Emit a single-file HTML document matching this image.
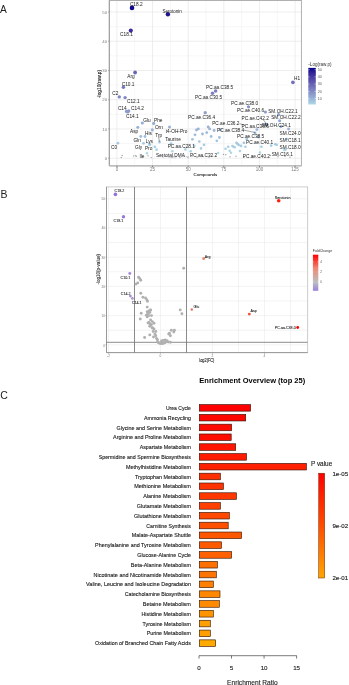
<!DOCTYPE html>
<html><head><meta charset="utf-8"><title>Figure</title>
<style>html,body{margin:0;padding:0;background:#fff;width:349px;height:685px;overflow:hidden}</style>
</head><body>
<svg width="349" height="685" viewBox="0 0 349 685" style="display:block;font-family:'Liberation Sans', Arial, sans-serif">
<rect width="349" height="685" fill="#fff"/>
<text transform="translate(0.00,12.70)" font-size="10.2" fill="#222">A</text>
<text transform="translate(0.60,197.70)" font-size="10.5" fill="#222">B</text>
<text transform="translate(0.30,398.60)" font-size="10.5" fill="#222">C</text>
<rect x="109.3" y="0.5" width="192.09999999999997" height="165.3" fill="#fff"/>
<line x1="134.72" y1="0.5" x2="134.72" y2="165.8" stroke="#f2f2f2" stroke-width="0.6"/><line x1="170.36" y1="0.5" x2="170.36" y2="165.8" stroke="#f2f2f2" stroke-width="0.6"/><line x1="206.00" y1="0.5" x2="206.00" y2="165.8" stroke="#f2f2f2" stroke-width="0.6"/><line x1="241.64" y1="0.5" x2="241.64" y2="165.8" stroke="#f2f2f2" stroke-width="0.6"/><line x1="277.28" y1="0.5" x2="277.28" y2="165.8" stroke="#f2f2f2" stroke-width="0.6"/><line x1="109.3" y1="143.58" x2="301.4" y2="143.58" stroke="#f2f2f2" stroke-width="0.6"/><line x1="109.3" y1="114.34" x2="301.4" y2="114.34" stroke="#f2f2f2" stroke-width="0.6"/><line x1="109.3" y1="85.10" x2="301.4" y2="85.10" stroke="#f2f2f2" stroke-width="0.6"/><line x1="109.3" y1="55.86" x2="301.4" y2="55.86" stroke="#f2f2f2" stroke-width="0.6"/><line x1="109.3" y1="26.62" x2="301.4" y2="26.62" stroke="#f2f2f2" stroke-width="0.6"/><line x1="116.90" y1="0.5" x2="116.90" y2="165.8" stroke="#e6e6e6" stroke-width="0.7"/><line x1="152.54" y1="0.5" x2="152.54" y2="165.8" stroke="#e6e6e6" stroke-width="0.7"/><line x1="188.18" y1="0.5" x2="188.18" y2="165.8" stroke="#e6e6e6" stroke-width="0.7"/><line x1="223.82" y1="0.5" x2="223.82" y2="165.8" stroke="#e6e6e6" stroke-width="0.7"/><line x1="259.46" y1="0.5" x2="259.46" y2="165.8" stroke="#e6e6e6" stroke-width="0.7"/><line x1="295.10" y1="0.5" x2="295.10" y2="165.8" stroke="#e6e6e6" stroke-width="0.7"/><line x1="109.3" y1="158.20" x2="301.4" y2="158.20" stroke="#e6e6e6" stroke-width="0.7"/><line x1="109.3" y1="128.96" x2="301.4" y2="128.96" stroke="#e6e6e6" stroke-width="0.7"/><line x1="109.3" y1="99.72" x2="301.4" y2="99.72" stroke="#e6e6e6" stroke-width="0.7"/><line x1="109.3" y1="70.48" x2="301.4" y2="70.48" stroke="#e6e6e6" stroke-width="0.7"/><line x1="109.3" y1="41.24" x2="301.4" y2="41.24" stroke="#e6e6e6" stroke-width="0.7"/><line x1="109.3" y1="12.00" x2="301.4" y2="12.00" stroke="#e6e6e6" stroke-width="0.7"/>
<rect x="109.3" y="0.5" width="192.09999999999997" height="165.3" fill="none" stroke="#a8a8a8" stroke-width="0.9"/>
<line x1="109.3" y1="0.5" x2="109.3" y2="165.8" stroke="#9a9a9a" stroke-width="0.9"/>
<line x1="109.3" y1="165.8" x2="301.4" y2="165.8" stroke="#bdbdbd" stroke-width="1.5"/>
<line x1="108.0" y1="158.20" x2="109.3" y2="158.20" stroke="#888" stroke-width="0.6"/>
<text transform="translate(107.10,159.75)" font-size="4.3" fill="#7c7c7c" text-anchor="end">0</text>
<line x1="108.0" y1="128.96" x2="109.3" y2="128.96" stroke="#888" stroke-width="0.6"/>
<text transform="translate(107.10,130.51)" font-size="4.3" fill="#7c7c7c" text-anchor="end">10</text>
<line x1="108.0" y1="99.72" x2="109.3" y2="99.72" stroke="#888" stroke-width="0.6"/>
<text transform="translate(107.10,101.27)" font-size="4.3" fill="#7c7c7c" text-anchor="end">20</text>
<line x1="108.0" y1="70.48" x2="109.3" y2="70.48" stroke="#888" stroke-width="0.6"/>
<text transform="translate(107.10,72.03)" font-size="4.3" fill="#7c7c7c" text-anchor="end">30</text>
<line x1="108.0" y1="41.24" x2="109.3" y2="41.24" stroke="#888" stroke-width="0.6"/>
<text transform="translate(107.10,42.79)" font-size="4.3" fill="#7c7c7c" text-anchor="end">40</text>
<line x1="108.0" y1="12.00" x2="109.3" y2="12.00" stroke="#888" stroke-width="0.6"/>
<text transform="translate(107.10,13.55)" font-size="4.3" fill="#7c7c7c" text-anchor="end">50</text>
<line x1="116.90" y1="165.8" x2="116.90" y2="167.10000000000002" stroke="#555" stroke-width="0.7"/>
<text transform="translate(116.90,171.10)" font-size="4.5" fill="#7c7c7c" text-anchor="middle">0</text>
<line x1="152.54" y1="165.8" x2="152.54" y2="167.10000000000002" stroke="#555" stroke-width="0.7"/>
<text transform="translate(152.54,171.10)" font-size="4.5" fill="#7c7c7c" text-anchor="middle">25</text>
<line x1="188.18" y1="165.8" x2="188.18" y2="167.10000000000002" stroke="#555" stroke-width="0.7"/>
<text transform="translate(188.18,171.10)" font-size="4.5" fill="#7c7c7c" text-anchor="middle">50</text>
<line x1="223.82" y1="165.8" x2="223.82" y2="167.10000000000002" stroke="#555" stroke-width="0.7"/>
<text transform="translate(223.82,171.10)" font-size="4.5" fill="#7c7c7c" text-anchor="middle">75</text>
<line x1="259.46" y1="165.8" x2="259.46" y2="167.10000000000002" stroke="#555" stroke-width="0.7"/>
<text transform="translate(259.46,171.10)" font-size="4.5" fill="#7c7c7c" text-anchor="middle">100</text>
<line x1="295.10" y1="165.8" x2="295.10" y2="167.10000000000002" stroke="#555" stroke-width="0.7"/>
<text transform="translate(295.10,171.10)" font-size="4.5" fill="#7c7c7c" text-anchor="middle">125</text>
<text transform="translate(205.40,176.00)" font-size="4.4" fill="#222" text-anchor="middle" stroke="#222" stroke-width="0.1">Compounds</text>
<text transform="translate(101.10,84.00) rotate(-90)" font-size="4.8" fill="#222" text-anchor="middle" stroke="#222" stroke-width="0.1">-log10(raw.p)</text>
<defs><linearGradient id="gA" x1="0" y1="1" x2="0" y2="0"><stop offset="0.0" stop-color="#add8e6"/><stop offset="0.1" stop-color="#a1c2dd"/><stop offset="0.2" stop-color="#95acd4"/><stop offset="0.3" stop-color="#8997cb"/><stop offset="0.4" stop-color="#7c82c2"/><stop offset="0.5" stop-color="#6f6db9"/><stop offset="0.6" stop-color="#6059b0"/><stop offset="0.7" stop-color="#5145a7"/><stop offset="0.8" stop-color="#3f309e"/><stop offset="0.9" stop-color="#2a1b94"/><stop offset="1.0" stop-color="#00008b"/></linearGradient>
<linearGradient id="gB" x1="0" y1="1" x2="0" y2="0"><stop offset="0" stop-color="#9b82dd"/><stop offset="0.24" stop-color="#bebebe"/><stop offset="0.62" stop-color="#ee8a76"/><stop offset="1" stop-color="#ff0000"/></linearGradient>
<linearGradient id="gC" x1="0" y1="0" x2="0" y2="1"><stop offset="0" stop-color="#ff0000"/><stop offset="0.5" stop-color="#ff4d00"/><stop offset="1" stop-color="#ffa500"/></linearGradient></defs>
<text transform="translate(308.30,66.00)" font-size="4.6" fill="#333">-Log(raw.p)</text>
<rect x="308.3" y="67.9" width="7.5" height="36.6" fill="url(#gA)"/>
<line x1="308.3" y1="69.7" x2="309.6" y2="69.7" stroke="#fff" stroke-width="0.5"/><line x1="314.5" y1="69.7" x2="315.8" y2="69.7" stroke="#fff" stroke-width="0.5"/>
<text transform="translate(317.80,71.00)" font-size="3.6" fill="#555">50</text>
<line x1="308.3" y1="76.9" x2="309.6" y2="76.9" stroke="#fff" stroke-width="0.5"/><line x1="314.5" y1="76.9" x2="315.8" y2="76.9" stroke="#fff" stroke-width="0.5"/>
<text transform="translate(317.80,78.20)" font-size="3.6" fill="#555">40</text>
<line x1="308.3" y1="84.1" x2="309.6" y2="84.1" stroke="#fff" stroke-width="0.5"/><line x1="314.5" y1="84.1" x2="315.8" y2="84.1" stroke="#fff" stroke-width="0.5"/>
<text transform="translate(317.80,85.40)" font-size="3.6" fill="#555">30</text>
<line x1="308.3" y1="91.4" x2="309.6" y2="91.4" stroke="#fff" stroke-width="0.5"/><line x1="314.5" y1="91.4" x2="315.8" y2="91.4" stroke="#fff" stroke-width="0.5"/>
<text transform="translate(317.80,92.70)" font-size="3.6" fill="#555">20</text>
<line x1="308.3" y1="98.5" x2="309.6" y2="98.5" stroke="#fff" stroke-width="0.5"/><line x1="314.5" y1="98.5" x2="315.8" y2="98.5" stroke="#fff" stroke-width="0.5"/>
<text transform="translate(317.80,99.80)" font-size="3.6" fill="#555">10</text>
<circle cx="132.0" cy="7.9" r="2.30" fill="#11088e"/>
<circle cx="167.9" cy="14.3" r="2.20" fill="#211492"/>
<circle cx="130.8" cy="30.6" r="2.10" fill="#3b2c9c"/>
<circle cx="135.1" cy="72.5" r="1.90" fill="#6965b6"/>
<circle cx="123.4" cy="87.3" r="1.75" fill="#7679bf"/>
<circle cx="119.3" cy="96.9" r="1.70" fill="#7f86c4"/>
<circle cx="125.1" cy="97.6" r="1.70" fill="#8087c5"/>
<circle cx="126.5" cy="111.4" r="1.65" fill="#8b9bcd"/>
<circle cx="128.7" cy="111.0" r="1.65" fill="#8b9acd"/>
<circle cx="127.7" cy="111.9" r="1.65" fill="#8c9bcd"/>
<circle cx="142.3" cy="123.0" r="1.55" fill="#95abd4"/>
<circle cx="153.7" cy="123.4" r="1.55" fill="#95acd4"/>
<circle cx="152.3" cy="129.9" r="1.55" fill="#9ab5d8"/>
<circle cx="137.8" cy="127.3" r="1.55" fill="#98b2d7"/>
<circle cx="145.0" cy="136.5" r="1.45" fill="#a0bfdc"/>
<circle cx="159.5" cy="142.0" r="1.40" fill="#a4c7df"/>
<circle cx="140.8" cy="136.5" r="1.45" fill="#a0bfdc"/>
<circle cx="143.5" cy="143.3" r="1.40" fill="#a5c9e0"/>
<circle cx="117.9" cy="143.2" r="1.40" fill="#a5c9e0"/>
<circle cx="154.9" cy="146.8" r="1.35" fill="#a8cee2"/>
<circle cx="156.6" cy="149.7" r="1.35" fill="#aad2e4"/>
<circle cx="169.5" cy="127.0" r="1.50" fill="#98b1d6"/>
<circle cx="205.2" cy="112.7" r="1.65" fill="#8c9dce"/>
<circle cx="215.6" cy="90.9" r="1.75" fill="#7a7ec1"/>
<circle cx="212.5" cy="93.3" r="1.75" fill="#7c81c2"/>
<circle cx="248.5" cy="106.8" r="1.65" fill="#8794ca"/>
<circle cx="265.4" cy="112.0" r="1.60" fill="#8c9ccd"/>
<circle cx="266.5" cy="124.4" r="1.60" fill="#96add5"/>
<circle cx="278.6" cy="114.6" r="1.55" fill="#8e9fcf"/>
<circle cx="279.6" cy="120.8" r="1.55" fill="#93a8d3"/>
<circle cx="292.9" cy="82.3" r="1.85" fill="#7272bc"/>
<circle cx="196.5" cy="130" r="1.45" fill="#9bb5d8"/>
<circle cx="198.3" cy="128.9" r="1.45" fill="#9ab4d7"/>
<circle cx="195" cy="134.8" r="1.40" fill="#9ebcdb"/>
<circle cx="202.5" cy="134" r="1.40" fill="#9ebbdb"/>
<circle cx="206.8" cy="132.6" r="1.40" fill="#9db9da"/>
<circle cx="208.2" cy="126.9" r="1.45" fill="#98b1d6"/>
<circle cx="209.6" cy="128.9" r="1.45" fill="#9ab4d7"/>
<circle cx="214.1" cy="130.5" r="1.40" fill="#9bb6d8"/>
<circle cx="192.4" cy="139.3" r="1.40" fill="#a2c3de"/>
<circle cx="199.3" cy="141.5" r="1.35" fill="#a4c6df"/>
<circle cx="211.1" cy="136.5" r="1.40" fill="#a0bfdc"/>
<circle cx="219.4" cy="137.5" r="1.40" fill="#a1c0dd"/>
<circle cx="216.8" cy="140.8" r="1.35" fill="#a3c5df"/>
<circle cx="204" cy="144.8" r="1.35" fill="#a6cbe1"/>
<circle cx="201" cy="148.4" r="1.30" fill="#a9d0e3"/>
<circle cx="194.3" cy="145.8" r="1.35" fill="#a7cde1"/>
<circle cx="190.7" cy="151.2" r="1.30" fill="#abd5e5"/>
<circle cx="185.4" cy="149.4" r="1.30" fill="#aad2e4"/>
<circle cx="218.2" cy="153" r="1.25" fill="#add7e6"/>
<circle cx="225.6" cy="148.8" r="1.30" fill="#a9d1e3"/>
<circle cx="228.2" cy="146.8" r="1.30" fill="#a8cee2"/>
<circle cx="229.6" cy="150.8" r="1.25" fill="#abd4e4"/>
<circle cx="231" cy="152.7" r="1.25" fill="#acd7e6"/>
<circle cx="232.4" cy="146" r="1.30" fill="#a7cde2"/>
<circle cx="233.6" cy="146.8" r="1.30" fill="#a8cee2"/>
<circle cx="234.7" cy="147.3" r="1.30" fill="#a8cfe2"/>
<circle cx="220.5" cy="129.7" r="1.45" fill="#9ab5d8"/>
<circle cx="171.0" cy="143.6" r="1.35" fill="#a5c9e0"/>
<circle cx="172.3" cy="151.2" r="1.25" fill="#abd5e5"/>
<circle cx="150.0" cy="144.6" r="1.35" fill="#a6cbe1"/>
<circle cx="256.9" cy="129.6" r="1.45" fill="#9ab5d8"/>
<circle cx="255.0" cy="133.0" r="1.45" fill="#9dbada"/>
<circle cx="258.2" cy="137.0" r="1.40" fill="#a0c0dc"/>
<circle cx="246.8" cy="139.0" r="1.40" fill="#a2c3dd"/>
<circle cx="243.9" cy="142.8" r="1.35" fill="#a5c8e0"/>
<circle cx="236.5" cy="142.8" r="1.35" fill="#a5c8e0"/>
<circle cx="237.6" cy="143.9" r="1.35" fill="#a6cae0"/>
<circle cx="238.8" cy="145.1" r="1.30" fill="#a7cce1"/>
<circle cx="241.0" cy="145.9" r="1.30" fill="#a7cde2"/>
<circle cx="245.4" cy="146.8" r="1.30" fill="#a8cee2"/>
<circle cx="239.9" cy="151.1" r="1.25" fill="#abd4e5"/>
<circle cx="261.4" cy="146.8" r="1.30" fill="#a8cee2"/>
<circle cx="260.0" cy="152.5" r="1.25" fill="#acd6e5"/>
<circle cx="271.2" cy="145.6" r="1.30" fill="#a7cce1"/>
<circle cx="275.2" cy="144.3" r="1.30" fill="#a6cae1"/>
<circle cx="276.7" cy="144.7" r="1.30" fill="#a6cbe1"/>
<circle cx="284.4" cy="150.0" r="1.25" fill="#aad3e4"/>
<circle cx="285.5" cy="149.6" r="1.25" fill="#aad2e4"/>
<circle cx="286.6" cy="139.0" r="1.35" fill="#a2c3dd"/>
<circle cx="288.6" cy="129.0" r="1.45" fill="#9ab4d8"/>
<circle cx="280.9" cy="126.4" r="1.50" fill="#98b0d6"/>
<circle cx="265.7" cy="124.4" r="1.55" fill="#96add5"/>
<circle cx="147.0" cy="153.3" r="1.25" fill="#add8e6"/>
<circle cx="149.4" cy="144.7" r="1.30" fill="#a6cbe1"/>
<circle cx="121.2" cy="157.5" r="0.7" fill="#9aa6ad"/>
<circle cx="122.2" cy="155.5" r="0.7" fill="#9aa6ad"/>
<circle cx="133.6" cy="156" r="0.7" fill="#9aa6ad"/>
<circle cx="135.5" cy="155.8" r="0.7" fill="#9aa6ad"/>
<circle cx="136.5" cy="156.2" r="0.7" fill="#9aa6ad"/>
<circle cx="148" cy="155.8" r="0.7" fill="#9aa6ad"/>
<circle cx="151.3" cy="157.6" r="0.7" fill="#9aa6ad"/>
<circle cx="160" cy="156" r="0.7" fill="#9aa6ad"/>
<circle cx="163" cy="157" r="0.7" fill="#9aa6ad"/>
<circle cx="166" cy="156.3" r="0.7" fill="#9aa6ad"/>
<circle cx="172" cy="157.2" r="0.7" fill="#9aa6ad"/>
<circle cx="176" cy="156.5" r="0.7" fill="#9aa6ad"/>
<circle cx="180" cy="157.5" r="0.7" fill="#9aa6ad"/>
<circle cx="184" cy="156.4" r="0.7" fill="#9aa6ad"/>
<circle cx="188" cy="157" r="0.7" fill="#9aa6ad"/>
<circle cx="192" cy="156.2" r="0.7" fill="#9aa6ad"/>
<circle cx="197" cy="157.4" r="0.7" fill="#9aa6ad"/>
<circle cx="203" cy="156.5" r="0.7" fill="#9aa6ad"/>
<circle cx="209" cy="157.3" r="0.7" fill="#9aa6ad"/>
<circle cx="223.4" cy="154.4" r="0.7" fill="#9aa6ad"/>
<circle cx="225.8" cy="154.7" r="0.7" fill="#9aa6ad"/>
<circle cx="230" cy="156.8" r="0.7" fill="#9aa6ad"/>
<circle cx="236" cy="156.2" r="0.7" fill="#9aa6ad"/>
<circle cx="244" cy="157" r="0.7" fill="#9aa6ad"/>
<circle cx="270.4" cy="155.5" r="0.7" fill="#9aa6ad"/>
<circle cx="278" cy="156.8" r="0.7" fill="#9aa6ad"/>
<circle cx="285" cy="156.4" r="0.7" fill="#9aa6ad"/>
<circle cx="290" cy="157.3" r="0.7" fill="#9aa6ad"/>
<g stroke="#222" stroke-width="0.4">
<line x1="158.5" y1="137" x2="159.5" y2="141.5"/>
<line x1="161.5" y1="156.6" x2="164" y2="155.2" stroke="#888"/><line x1="185.5" y1="156" x2="188.5" y2="158" stroke="#888"/><line x1="168" y1="157.5" x2="176" y2="157.8" stroke="#aaa"/>
<line x1="239.5" y1="123.5" x2="245" y2="125.5"/>
<line x1="244" y1="130.2" x2="255.2" y2="132.5"/>
<line x1="263.5" y1="120" x2="266.5" y2="124"/>
</g>
<text transform="translate(129.90,5.70)" font-size="4.75" fill="#1a1a1a">C18.2</text>
<text transform="translate(162.60,12.90)" font-size="4.5" fill="#1a1a1a">Serotonin</text>
<text transform="translate(120.10,36.10)" font-size="4.75" fill="#1a1a1a">C18.1</text>
<text transform="translate(127.30,78.40)" font-size="4.75" fill="#1a1a1a">Arg</text>
<text transform="translate(121.80,85.90)" font-size="4.75" fill="#1a1a1a">C10.1</text>
<text transform="translate(112.20,95.40)" font-size="4.75" fill="#1a1a1a">C2</text>
<text transform="translate(127.00,103.10)" font-size="4.75" fill="#1a1a1a">C12.1</text>
<text transform="translate(117.90,109.70)" font-size="4.75" fill="#1a1a1a">C14</text>
<text transform="translate(131.10,109.70)" font-size="4.75" fill="#1a1a1a">C14.2</text>
<text transform="translate(126.00,118.20)" font-size="4.75" fill="#1a1a1a">C14.1</text>
<text transform="translate(143.20,121.70)" font-size="4.75" fill="#1a1a1a">Glu</text>
<text transform="translate(154.00,121.70)" font-size="4.75" fill="#1a1a1a">Phe</text>
<text transform="translate(154.90,129.00)" font-size="4.75" fill="#1a1a1a">Orn</text>
<text transform="translate(130.00,132.90)" font-size="4.75" fill="#1a1a1a">Asp</text>
<text transform="translate(145.00,134.70)" font-size="4.75" fill="#1a1a1a">His</text>
<text transform="translate(155.20,136.60)" font-size="4.75" fill="#1a1a1a">Trp</text>
<text transform="translate(133.40,141.90)" font-size="4.75" fill="#1a1a1a">Gln</text>
<text transform="translate(145.70,143.00)" font-size="4.75" fill="#1a1a1a">Lys</text>
<text transform="translate(111.00,148.60)" font-size="4.75" fill="#1a1a1a">C0</text>
<text transform="translate(135.00,149.00)" font-size="4.75" fill="#1a1a1a">Gly</text>
<text transform="translate(144.90,149.90)" font-size="4.75" fill="#1a1a1a">Pro</text>
<text transform="translate(139.40,158.30)" font-size="4.75" fill="#1a1a1a">Ile</text>
<text transform="translate(156.00,156.60)" font-size="4.75" fill="#1a1a1a">Ser</text>
<text transform="translate(164.00,156.60)" font-size="4.75" fill="#1a1a1a">total.DMA</text>
<text transform="translate(165.70,133.20)" font-size="4.75" fill="#1a1a1a">t4-OH-Pro</text>
<text transform="translate(165.20,141.00)" font-size="4.75" fill="#1a1a1a">Taurine</text>
<text transform="translate(167.70,147.80)" font-size="4.75" fill="#1a1a1a">PC.aa.C28.1</text>
<text transform="translate(190.00,157.00)" font-size="4.75" fill="#1a1a1a">PC.aa.C32.2</text>
<text transform="translate(188.00,118.60)" font-size="4.75" fill="#1a1a1a">PC.ae.C36.4</text>
<text transform="translate(206.00,89.00)" font-size="4.75" fill="#1a1a1a">PC.aa.C38.5</text>
<text transform="translate(195.00,98.80)" font-size="4.75" fill="#1a1a1a">PC.aa.C30.5</text>
<text transform="translate(231.00,104.80)" font-size="4.75" fill="#1a1a1a">PC.ae.C38.0</text>
<text transform="translate(237.00,112.30)" font-size="4.75" fill="#1a1a1a">PC.ae.C40.6</text>
<text transform="translate(241.60,119.70)" font-size="4.75" fill="#1a1a1a">PC.ae.C42.2</text>
<text transform="translate(212.20,124.70)" font-size="4.75" fill="#1a1a1a">PC.ae.C36.2</text>
<text transform="translate(241.60,127.70)" font-size="4.75" fill="#1a1a1a">PC.aa.C36.6</text>
<text transform="translate(217.00,131.80)" font-size="4.75" fill="#1a1a1a">PC.ae.C38.4</text>
<text transform="translate(237.00,138.20)" font-size="4.75" fill="#1a1a1a">PC.ae.C38.5</text>
<text transform="translate(246.00,144.20)" font-size="4.75" fill="#1a1a1a">PC.ae.C40.1</text>
<text transform="translate(242.80,158.30)" font-size="4.75" fill="#1a1a1a">PC.ae.C40.2</text>
<text transform="translate(268.20,112.70)" font-size="4.75" fill="#1a1a1a">SM.OH.C22.1</text>
<text transform="translate(271.20,119.20)" font-size="4.75" fill="#1a1a1a">SM.OH.C22.2</text>
<text transform="translate(261.40,126.60)" font-size="4.75" fill="#1a1a1a">SM.OH.C24.1</text>
<text transform="translate(279.60,134.90)" font-size="4.75" fill="#1a1a1a">SM.C24.0</text>
<text transform="translate(279.60,142.40)" font-size="4.75" fill="#1a1a1a">SM.C18.1</text>
<text transform="translate(279.50,148.70)" font-size="4.75" fill="#1a1a1a">SM.C18.0</text>
<text transform="translate(271.70,155.80)" font-size="4.75" fill="#1a1a1a">SM.C16.1</text>
<text transform="translate(294.00,80.40)" font-size="4.75" fill="#1a1a1a">H1</text>
<line x1="108.50" y1="186.9" x2="108.50" y2="352.6" stroke="#ebebeb" stroke-width="0.6"/><line x1="134.50" y1="186.9" x2="134.50" y2="352.6" stroke="#ebebeb" stroke-width="0.6"/><line x1="160.50" y1="186.9" x2="160.50" y2="352.6" stroke="#ebebeb" stroke-width="0.6"/><line x1="186.50" y1="186.9" x2="186.50" y2="352.6" stroke="#ebebeb" stroke-width="0.6"/><line x1="212.50" y1="186.9" x2="212.50" y2="352.6" stroke="#ebebeb" stroke-width="0.6"/><line x1="238.50" y1="186.9" x2="238.50" y2="352.6" stroke="#ebebeb" stroke-width="0.6"/><line x1="264.50" y1="186.9" x2="264.50" y2="352.6" stroke="#ebebeb" stroke-width="0.6"/><line x1="290.50" y1="186.9" x2="290.50" y2="352.6" stroke="#ebebeb" stroke-width="0.6"/><line x1="106.5" y1="344.80" x2="307.6" y2="344.80" stroke="#ebebeb" stroke-width="0.6"/><line x1="106.5" y1="330.20" x2="307.6" y2="330.20" stroke="#ebebeb" stroke-width="0.6"/><line x1="106.5" y1="315.60" x2="307.6" y2="315.60" stroke="#ebebeb" stroke-width="0.6"/><line x1="106.5" y1="301.00" x2="307.6" y2="301.00" stroke="#ebebeb" stroke-width="0.6"/><line x1="106.5" y1="286.40" x2="307.6" y2="286.40" stroke="#ebebeb" stroke-width="0.6"/><line x1="106.5" y1="271.80" x2="307.6" y2="271.80" stroke="#ebebeb" stroke-width="0.6"/><line x1="106.5" y1="257.20" x2="307.6" y2="257.20" stroke="#ebebeb" stroke-width="0.6"/><line x1="106.5" y1="242.60" x2="307.6" y2="242.60" stroke="#ebebeb" stroke-width="0.6"/><line x1="106.5" y1="228.00" x2="307.6" y2="228.00" stroke="#ebebeb" stroke-width="0.6"/><line x1="106.5" y1="213.40" x2="307.6" y2="213.40" stroke="#ebebeb" stroke-width="0.6"/><line x1="106.5" y1="198.80" x2="307.6" y2="198.80" stroke="#ebebeb" stroke-width="0.6"/>
<rect x="106.5" y="186.9" width="201.10000000000002" height="165.70000000000002" fill="none" stroke="#cdcdcd" stroke-width="1.0"/>
<line x1="106.5" y1="186.9" x2="106.5" y2="352.6" stroke="#8a8a8a" stroke-width="0.8"/>
<line x1="106.5" y1="352.6" x2="307.6" y2="352.6" stroke="#8a8a8a" stroke-width="0.8"/>
<line x1="134.50" y1="186.9" x2="134.50" y2="352.6" stroke="#777" stroke-width="0.85"/>
<line x1="186.50" y1="186.9" x2="186.50" y2="352.6" stroke="#777" stroke-width="0.85"/>
<line x1="106.5" y1="342.3" x2="307.6" y2="342.3" stroke="#777" stroke-width="0.85"/>
<line x1="105.3" y1="344.80" x2="106.5" y2="344.80" stroke="#888" stroke-width="0.5"/>
<text transform="translate(105.00,346.60) scale(0.82,1)" font-size="3.9" fill="#777" text-anchor="end">0</text>
<line x1="105.3" y1="315.60" x2="106.5" y2="315.60" stroke="#888" stroke-width="0.5"/>
<text transform="translate(105.00,317.28) scale(0.82,1)" font-size="3.9" fill="#777" text-anchor="end">10</text>
<line x1="105.3" y1="286.40" x2="106.5" y2="286.40" stroke="#888" stroke-width="0.5"/>
<text transform="translate(105.00,287.96) scale(0.82,1)" font-size="3.9" fill="#777" text-anchor="end">20</text>
<line x1="105.3" y1="257.20" x2="106.5" y2="257.20" stroke="#888" stroke-width="0.5"/>
<text transform="translate(105.00,258.64) scale(0.82,1)" font-size="3.9" fill="#777" text-anchor="end">30</text>
<line x1="105.3" y1="228.00" x2="106.5" y2="228.00" stroke="#888" stroke-width="0.5"/>
<text transform="translate(105.00,229.32) scale(0.82,1)" font-size="3.9" fill="#777" text-anchor="end">40</text>
<line x1="105.3" y1="198.80" x2="106.5" y2="198.80" stroke="#888" stroke-width="0.5"/>
<text transform="translate(105.00,200.00) scale(0.82,1)" font-size="3.9" fill="#777" text-anchor="end">50</text>
<line x1="108.50" y1="352.6" x2="108.50" y2="353.8" stroke="#888" stroke-width="0.5"/>
<text transform="translate(108.50,357.10) scale(0.82,1)" font-size="3.9" fill="#777" text-anchor="middle">-2</text>
<line x1="160.50" y1="352.6" x2="160.50" y2="353.8" stroke="#888" stroke-width="0.5"/>
<text transform="translate(160.50,357.10) scale(0.82,1)" font-size="3.9" fill="#777" text-anchor="middle">0</text>
<line x1="212.50" y1="352.6" x2="212.50" y2="353.8" stroke="#888" stroke-width="0.5"/>
<text transform="translate(212.50,357.10) scale(0.82,1)" font-size="3.9" fill="#777" text-anchor="middle">2</text>
<line x1="264.50" y1="352.6" x2="264.50" y2="353.8" stroke="#888" stroke-width="0.5"/>
<text transform="translate(264.50,357.10) scale(0.82,1)" font-size="3.9" fill="#777" text-anchor="middle">4</text>
<text transform="translate(206.85,361.95) scale(0.85,1)" font-size="4.6" fill="#222" text-anchor="middle" stroke="#222" stroke-width="0.1">log2(FC)</text>
<text transform="translate(100.00,269.30) rotate(-90)" font-size="4.55" fill="#222" text-anchor="middle" stroke="#222" stroke-width="0.1">-log10(p-value)</text>
<text transform="translate(312.80,251.80) scale(0.87,1)" font-size="4.1" fill="#333">FoldChange</text>
<rect x="312.9" y="254.7" width="5.4" height="36.1" fill="url(#gB)"/>
<line x1="312.9" y1="261.8" x2="313.9" y2="261.8" stroke="#fff" stroke-width="0.4"/><line x1="317.3" y1="261.8" x2="318.3" y2="261.8" stroke="#fff" stroke-width="0.4"/>
<text transform="translate(320.20,263.10) scale(0.85,1)" font-size="3.6" fill="#555">4</text>
<line x1="312.9" y1="272.0" x2="313.9" y2="272.0" stroke="#fff" stroke-width="0.4"/><line x1="317.3" y1="272.0" x2="318.3" y2="272.0" stroke="#fff" stroke-width="0.4"/>
<text transform="translate(320.20,273.30) scale(0.85,1)" font-size="3.6" fill="#555">2</text>
<line x1="312.9" y1="282.1" x2="313.9" y2="282.1" stroke="#fff" stroke-width="0.4"/><line x1="317.3" y1="282.1" x2="318.3" y2="282.1" stroke="#fff" stroke-width="0.4"/>
<text transform="translate(320.20,283.40) scale(0.85,1)" font-size="3.6" fill="#555">0</text>
<circle cx="138.6" cy="277.2" r="1.45" fill="#b0b0b0"/>
<circle cx="139.8" cy="278.6" r="1.45" fill="#b0b0b0"/>
<circle cx="140.7" cy="280.3" r="1.45" fill="#b0b0b0"/>
<circle cx="137.7" cy="282.9" r="1.45" fill="#b0b0b0"/>
<circle cx="136" cy="284.1" r="1.45" fill="#b0b0b0"/>
<circle cx="140.8" cy="293.2" r="1.45" fill="#b0b0b0"/>
<circle cx="142.9" cy="297.2" r="1.45" fill="#b0b0b0"/>
<circle cx="145.5" cy="298" r="1.45" fill="#b0b0b0"/>
<circle cx="146.7" cy="299.6" r="1.45" fill="#b0b0b0"/>
<circle cx="147.5" cy="301.3" r="1.45" fill="#b0b0b0"/>
<circle cx="147.2" cy="307.1" r="1.45" fill="#b0b0b0"/>
<circle cx="150.3" cy="310.2" r="1.45" fill="#b0b0b0"/>
<circle cx="141.2" cy="313.3" r="1.45" fill="#b0b0b0"/>
<circle cx="147.2" cy="311.8" r="1.45" fill="#b0b0b0"/>
<circle cx="147.2" cy="315" r="1.45" fill="#b0b0b0"/>
<circle cx="148.9" cy="315.6" r="1.45" fill="#b0b0b0"/>
<circle cx="151.5" cy="315.6" r="1.45" fill="#b0b0b0"/>
<circle cx="140.3" cy="319" r="1.45" fill="#b0b0b0"/>
<circle cx="150.6" cy="319.9" r="1.45" fill="#b0b0b0"/>
<circle cx="152.3" cy="321.6" r="1.45" fill="#b0b0b0"/>
<circle cx="148.9" cy="322.4" r="1.45" fill="#b0b0b0"/>
<circle cx="154" cy="323.3" r="1.45" fill="#b0b0b0"/>
<circle cx="150.6" cy="325" r="1.45" fill="#b0b0b0"/>
<circle cx="152.3" cy="327.6" r="1.45" fill="#b0b0b0"/>
<circle cx="180.2" cy="309.9" r="1.45" fill="#b0b0b0"/>
<circle cx="181.9" cy="313.8" r="1.45" fill="#b0b0b0"/>
<circle cx="183.7" cy="268.3" r="1.45" fill="#b0b0b0"/>
<circle cx="148" cy="313.4" r="1.45" fill="#b0b0b0"/>
<circle cx="148.9" cy="310.9" r="1.45" fill="#b0b0b0"/>
<circle cx="149.8" cy="312.6" r="1.45" fill="#b0b0b0"/>
<circle cx="150.6" cy="310" r="1.45" fill="#b0b0b0"/>
<circle cx="146.3" cy="315.2" r="1.45" fill="#b0b0b0"/>
<circle cx="147.2" cy="316.9" r="1.45" fill="#b0b0b0"/>
<circle cx="148" cy="322.9" r="1.45" fill="#b0b0b0"/>
<circle cx="149.8" cy="323.8" r="1.45" fill="#b0b0b0"/>
<circle cx="151.5" cy="324.6" r="1.45" fill="#b0b0b0"/>
<circle cx="171.3" cy="330.3" r="1.45" fill="#b0b0b0"/>
<circle cx="174.4" cy="330.3" r="1.45" fill="#b0b0b0"/>
<circle cx="173.8" cy="332" r="1.45" fill="#b0b0b0"/>
<circle cx="169.5" cy="333.2" r="1.45" fill="#b0b0b0"/>
<circle cx="168.7" cy="334" r="1.45" fill="#b0b0b0"/>
<circle cx="170.4" cy="335.8" r="1.45" fill="#b0b0b0"/>
<circle cx="149.8" cy="326.3" r="1.45" fill="#b0b0b0"/>
<circle cx="152.3" cy="328" r="1.45" fill="#b0b0b0"/>
<circle cx="154" cy="328.9" r="1.45" fill="#b0b0b0"/>
<circle cx="155.8" cy="331.5" r="1.45" fill="#b0b0b0"/>
<circle cx="153.2" cy="331.5" r="1.45" fill="#b0b0b0"/>
<circle cx="154.9" cy="334.1" r="1.45" fill="#b0b0b0"/>
<circle cx="155.8" cy="335.8" r="1.45" fill="#b0b0b0"/>
<circle cx="149.8" cy="334.9" r="1.45" fill="#b0b0b0"/>
<circle cx="144.6" cy="337.5" r="1.45" fill="#b0b0b0"/>
<circle cx="157.5" cy="341.8" r="1.45" fill="#b0b0b0"/>
<circle cx="158.4" cy="342.7" r="1.45" fill="#b0b0b0"/>
<circle cx="159.6" cy="343.2" r="1.45" fill="#b0b0b0"/>
<circle cx="160.9" cy="343.5" r="1.45" fill="#b0b0b0"/>
<circle cx="162.3" cy="343.5" r="1.45" fill="#b0b0b0"/>
<circle cx="163.5" cy="343.2" r="1.45" fill="#b0b0b0"/>
<circle cx="164.9" cy="342.7" r="1.45" fill="#b0b0b0"/>
<circle cx="166.1" cy="341.8" r="1.45" fill="#b0b0b0"/>
<circle cx="168.2" cy="342" r="1.45" fill="#b0b0b0"/>
<circle cx="170.4" cy="342.3" r="1.45" fill="#b0b0b0"/>
<circle cx="165.2" cy="340" r="1.45" fill="#b0b0b0"/>
<circle cx="156.5" cy="338.5" r="1.45" fill="#b0b0b0"/>
<circle cx="157.5" cy="339.8" r="1.45" fill="#b0b0b0"/>
<circle cx="153.5" cy="337" r="1.45" fill="#b0b0b0"/>
<circle cx="161.5" cy="341" r="1.45" fill="#b0b0b0"/>
<circle cx="163" cy="340.5" r="1.45" fill="#b0b0b0"/>
<circle cx="167" cy="340.8" r="1.45" fill="#b0b0b0"/>
<circle cx="115.4" cy="194.4" r="1.8" fill="#9570dd"/>
<circle cx="123.5" cy="216.7" r="1.7" fill="#9878da"/>
<circle cx="129.8" cy="273.5" r="1.45" fill="#a08ad6"/>
<circle cx="130.4" cy="296.1" r="1.4" fill="#a48fd2"/>
<circle cx="132.4" cy="298.4" r="1.4" fill="#a796cf"/>
<circle cx="278.7" cy="200.7" r="1.8" fill="#ff2010"/>
<circle cx="203.7" cy="258.5" r="1.5" fill="#ea8a70"/>
<circle cx="191.8" cy="309.5" r="1.2" fill="#e8705a"/>
<circle cx="249.3" cy="314.1" r="1.45" fill="#f5503a"/>
<circle cx="297.7" cy="327.5" r="1.4" fill="#ff0000"/>
<text transform="translate(114.60,192.40) scale(0.85,1)" font-size="4.3" fill="#1a1a1a" stroke="#1a1a1a" stroke-width="0.08">C18.2</text>
<text transform="translate(113.60,222.30) scale(0.85,1)" font-size="4.3" fill="#1a1a1a" stroke="#1a1a1a" stroke-width="0.08">C18.1</text>
<text transform="translate(120.50,279.00) scale(0.85,1)" font-size="4.3" fill="#1a1a1a" stroke="#1a1a1a" stroke-width="0.08">C10.1</text>
<text transform="translate(120.80,295.30) scale(0.85,1)" font-size="4.3" fill="#1a1a1a" stroke="#1a1a1a" stroke-width="0.08">C14.2</text>
<text transform="translate(131.90,304.20) scale(0.85,1)" font-size="4.3" fill="#1a1a1a" stroke="#1a1a1a" stroke-width="0.08">C14.1</text>
<text transform="translate(274.80,198.70) scale(0.85,1)" font-size="4.3" fill="#1a1a1a" stroke="#1a1a1a" stroke-width="0.08">Serotonin</text>
<text transform="translate(204.80,257.50) scale(0.85,1)" font-size="4.3" fill="#1a1a1a" stroke="#1a1a1a" stroke-width="0.08">Arg</text>
<text transform="translate(193.60,308.20) scale(0.85,1)" font-size="4.3" fill="#1a1a1a" stroke="#1a1a1a" stroke-width="0.08">Glu</text>
<text transform="translate(250.60,312.30) scale(0.85,1)" font-size="4.3" fill="#1a1a1a" stroke="#1a1a1a" stroke-width="0.08">Asp</text>
<text transform="translate(274.80,329.00) scale(0.85,1)" font-size="4.3" fill="#1a1a1a" stroke="#1a1a1a" stroke-width="0.08">PC.aa.C38.0</text>
<text transform="translate(199.30,383.10)" font-size="7.5" fill="#000" font-weight="bold">Enrichment Overview (top 25)</text>
<rect x="199.3" y="404.55" width="51.30" height="6.6" fill="#ff0000" stroke="#2a1000" stroke-width="0.6"/>
<text transform="translate(190.90,409.95)" font-size="5.4" fill="#1a1a1a" text-anchor="end" stroke="#1a1a1a" stroke-width="0.12" textLength="24.97" lengthAdjust="spacingAndGlyphs">Urea Cycle</text>
<rect x="199.3" y="414.36" width="46.40" height="6.6" fill="#ff0500" stroke="#2a1000" stroke-width="0.6"/>
<text transform="translate(190.90,419.75)" font-size="5.4" fill="#1a1a1a" text-anchor="end" stroke="#1a1a1a" stroke-width="0.12" textLength="46.94" lengthAdjust="spacingAndGlyphs">Ammonia Recycling</text>
<rect x="199.3" y="424.16" width="32.30" height="6.6" fill="#ff0a00" stroke="#2a1000" stroke-width="0.6"/>
<text transform="translate(190.90,429.56)" font-size="5.4" fill="#1a1a1a" text-anchor="end" stroke="#1a1a1a" stroke-width="0.12" textLength="74.31" lengthAdjust="spacingAndGlyphs">Glycine and Serine Metabolism</text>
<rect x="199.3" y="433.97" width="31.90" height="6.6" fill="#ff0d00" stroke="#2a1000" stroke-width="0.6"/>
<text transform="translate(190.90,439.37)" font-size="5.4" fill="#1a1a1a" text-anchor="end" stroke="#1a1a1a" stroke-width="0.12" textLength="77.81" lengthAdjust="spacingAndGlyphs">Arginine and Proline Metabolism</text>
<rect x="199.3" y="443.77" width="36.40" height="6.6" fill="#ff1500" stroke="#2a1000" stroke-width="0.6"/>
<text transform="translate(190.90,449.17)" font-size="5.4" fill="#1a1a1a" text-anchor="end" stroke="#1a1a1a" stroke-width="0.12" textLength="51.24" lengthAdjust="spacingAndGlyphs">Aspartate Metabolism</text>
<rect x="199.3" y="453.57" width="47.20" height="6.6" fill="#ff1a00" stroke="#2a1000" stroke-width="0.6"/>
<text transform="translate(190.90,458.97)" font-size="5.4" fill="#1a1a1a" text-anchor="end" stroke="#1a1a1a" stroke-width="0.12" textLength="92.19" lengthAdjust="spacingAndGlyphs">Spermidine and Spermine Biosynthesis</text>
<rect x="199.3" y="463.38" width="107.10" height="6.6" fill="#ff2000" stroke="#2a1000" stroke-width="0.6"/>
<text transform="translate(190.90,468.78)" font-size="5.4" fill="#1a1a1a" text-anchor="end" stroke="#1a1a1a" stroke-width="0.12" textLength="64.82" lengthAdjust="spacingAndGlyphs">Methylhistidine Metabolism</text>
<rect x="199.3" y="473.19" width="21.10" height="6.6" fill="#ff3000" stroke="#2a1000" stroke-width="0.6"/>
<text transform="translate(190.90,478.58)" font-size="5.4" fill="#1a1a1a" text-anchor="end" stroke="#1a1a1a" stroke-width="0.12" textLength="55.94" lengthAdjust="spacingAndGlyphs">Tryptophan Metabolism</text>
<rect x="199.3" y="482.99" width="24.10" height="6.6" fill="#ff3300" stroke="#2a1000" stroke-width="0.6"/>
<text transform="translate(190.90,488.39)" font-size="5.4" fill="#1a1a1a" text-anchor="end" stroke="#1a1a1a" stroke-width="0.12" textLength="56.74" lengthAdjust="spacingAndGlyphs">Methionine Metabolism</text>
<rect x="199.3" y="492.80" width="37.10" height="6.6" fill="#ff3800" stroke="#2a1000" stroke-width="0.6"/>
<text transform="translate(190.90,498.19)" font-size="5.4" fill="#1a1a1a" text-anchor="end" stroke="#1a1a1a" stroke-width="0.12" textLength="47.75" lengthAdjust="spacingAndGlyphs">Alanine Metabolism</text>
<rect x="199.3" y="502.60" width="21.10" height="6.6" fill="#ff4000" stroke="#2a1000" stroke-width="0.6"/>
<text transform="translate(190.90,508.00)" font-size="5.4" fill="#1a1a1a" text-anchor="end" stroke="#1a1a1a" stroke-width="0.12" textLength="54.04" lengthAdjust="spacingAndGlyphs">Glutamate Metabolism</text>
<rect x="199.3" y="512.40" width="30.00" height="6.6" fill="#ff4800" stroke="#2a1000" stroke-width="0.6"/>
<text transform="translate(190.90,517.80)" font-size="5.4" fill="#1a1a1a" text-anchor="end" stroke="#1a1a1a" stroke-width="0.12" textLength="56.94" lengthAdjust="spacingAndGlyphs">Glutathione Metabolism</text>
<rect x="199.3" y="522.21" width="28.90" height="6.6" fill="#ff5000" stroke="#2a1000" stroke-width="0.6"/>
<text transform="translate(190.90,527.61)" font-size="5.4" fill="#1a1a1a" text-anchor="end" stroke="#1a1a1a" stroke-width="0.12" textLength="44.55" lengthAdjust="spacingAndGlyphs">Carnitine Synthesis</text>
<rect x="199.3" y="532.01" width="42.30" height="6.6" fill="#ff5600" stroke="#2a1000" stroke-width="0.6"/>
<text transform="translate(190.90,537.41)" font-size="5.4" fill="#1a1a1a" text-anchor="end" stroke="#1a1a1a" stroke-width="0.12" textLength="59.14" lengthAdjust="spacingAndGlyphs">Malate-Aspartate Shuttle</text>
<rect x="199.3" y="541.82" width="22.20" height="6.6" fill="#ff5a00" stroke="#2a1000" stroke-width="0.6"/>
<text transform="translate(190.90,547.22)" font-size="5.4" fill="#1a1a1a" text-anchor="end" stroke="#1a1a1a" stroke-width="0.12" textLength="95.9" lengthAdjust="spacingAndGlyphs">Phenylalanine and Tyrosine Metabolism</text>
<rect x="199.3" y="551.62" width="32.30" height="6.6" fill="#ff6000" stroke="#2a1000" stroke-width="0.6"/>
<text transform="translate(190.90,557.02)" font-size="5.4" fill="#1a1a1a" text-anchor="end" stroke="#1a1a1a" stroke-width="0.12" textLength="53.63" lengthAdjust="spacingAndGlyphs">Glucose-Alanine Cycle</text>
<rect x="199.3" y="561.43" width="18.10" height="6.6" fill="#ff7000" stroke="#2a1000" stroke-width="0.6"/>
<text transform="translate(190.90,566.83)" font-size="5.4" fill="#1a1a1a" text-anchor="end" stroke="#1a1a1a" stroke-width="0.12" textLength="60.14" lengthAdjust="spacingAndGlyphs">Beta-Alanine Metabolism</text>
<rect x="199.3" y="571.24" width="17.00" height="6.6" fill="#ff7400" stroke="#2a1000" stroke-width="0.6"/>
<text transform="translate(190.90,576.63)" font-size="5.4" fill="#1a1a1a" text-anchor="end" stroke="#1a1a1a" stroke-width="0.12" textLength="97.29" lengthAdjust="spacingAndGlyphs">Nicotinate and Nicotinamide Metabolism</text>
<rect x="199.3" y="581.04" width="14.00" height="6.6" fill="#ff8000" stroke="#2a1000" stroke-width="0.6"/>
<text transform="translate(190.90,586.44)" font-size="5.4" fill="#1a1a1a" text-anchor="end" stroke="#1a1a1a" stroke-width="0.12" textLength="104.79" lengthAdjust="spacingAndGlyphs">Valine, Leucine and Isoleucine Degradation</text>
<rect x="199.3" y="590.85" width="20.70" height="6.6" fill="#ff8800" stroke="#2a1000" stroke-width="0.6"/>
<text transform="translate(190.90,596.25)" font-size="5.4" fill="#1a1a1a" text-anchor="end" stroke="#1a1a1a" stroke-width="0.12" textLength="66.22" lengthAdjust="spacingAndGlyphs">Catecholamine Biosynthesis</text>
<rect x="199.3" y="600.65" width="20.00" height="6.6" fill="#ff8a00" stroke="#2a1000" stroke-width="0.6"/>
<text transform="translate(190.90,606.05)" font-size="5.4" fill="#1a1a1a" text-anchor="end" stroke="#1a1a1a" stroke-width="0.12" textLength="48.04" lengthAdjust="spacingAndGlyphs">Betaine Metabolism</text>
<rect x="199.3" y="610.46" width="14.00" height="6.6" fill="#ff9400" stroke="#2a1000" stroke-width="0.6"/>
<text transform="translate(190.90,615.86)" font-size="5.4" fill="#1a1a1a" text-anchor="end" stroke="#1a1a1a" stroke-width="0.12" textLength="49.53" lengthAdjust="spacingAndGlyphs">Histidine Metabolism</text>
<rect x="199.3" y="620.26" width="11.00" height="6.6" fill="#ff9e00" stroke="#2a1000" stroke-width="0.6"/>
<text transform="translate(190.90,625.66)" font-size="5.4" fill="#1a1a1a" text-anchor="end" stroke="#1a1a1a" stroke-width="0.12" textLength="48.34" lengthAdjust="spacingAndGlyphs">Tyrosine Metabolism</text>
<rect x="199.3" y="630.07" width="11.00" height="6.6" fill="#ffa000" stroke="#2a1000" stroke-width="0.6"/>
<text transform="translate(190.90,635.47)" font-size="5.4" fill="#1a1a1a" text-anchor="end" stroke="#1a1a1a" stroke-width="0.12" textLength="44.26" lengthAdjust="spacingAndGlyphs">Purine Metabolism</text>
<rect x="199.3" y="639.87" width="16.30" height="6.6" fill="#ffaa00" stroke="#2a1000" stroke-width="0.6"/>
<text transform="translate(190.90,645.27)" font-size="5.4" fill="#1a1a1a" text-anchor="end" stroke="#1a1a1a" stroke-width="0.12" textLength="95.8" lengthAdjust="spacingAndGlyphs">Oxidation of Branched Chain Fatty Acids</text>
<g stroke="#222" stroke-width="0.6"><line x1="199.0" y1="655.7" x2="296.7" y2="655.7"/><line x1="199.00" y1="655.7" x2="199.00" y2="658.6"/><line x1="231.53" y1="655.7" x2="231.53" y2="658.6"/><line x1="264.07" y1="655.7" x2="264.07" y2="658.6"/><line x1="296.61" y1="655.7" x2="296.61" y2="658.6"/></g>
<text transform="translate(199.00,669.50)" font-size="6.2" fill="#222" text-anchor="middle" stroke="#222" stroke-width="0.12">0</text>
<text transform="translate(231.53,669.50)" font-size="6.2" fill="#222" text-anchor="middle" stroke="#222" stroke-width="0.12">5</text>
<text transform="translate(264.07,669.50)" font-size="6.2" fill="#222" text-anchor="middle" stroke="#222" stroke-width="0.12">10</text>
<text transform="translate(296.61,669.50)" font-size="6.2" fill="#222" text-anchor="middle" stroke="#222" stroke-width="0.12">15</text>
<text transform="translate(252.40,684.60)" font-size="6.6" fill="#222" text-anchor="middle" stroke="#222" stroke-width="0.12">Enrichment Ratio</text>
<text transform="translate(311.00,465.80)" font-size="6.4" fill="#222" stroke="#222" stroke-width="0.14">P value</text>
<rect x="318.7" y="473.2" width="6.0" height="104.8" fill="url(#gC)" stroke="#6b2a00" stroke-width="0.5"/>
<text transform="translate(332.40,476.00)" font-size="6.15" fill="#222" stroke="#222" stroke-width="0.14">1e-05</text>
<text transform="translate(332.40,528.20)" font-size="6.15" fill="#222" stroke="#222" stroke-width="0.14">9e-02</text>
<text transform="translate(332.40,580.40)" font-size="6.15" fill="#222" stroke="#222" stroke-width="0.14">2e-01</text>
</svg>
</body></html>
